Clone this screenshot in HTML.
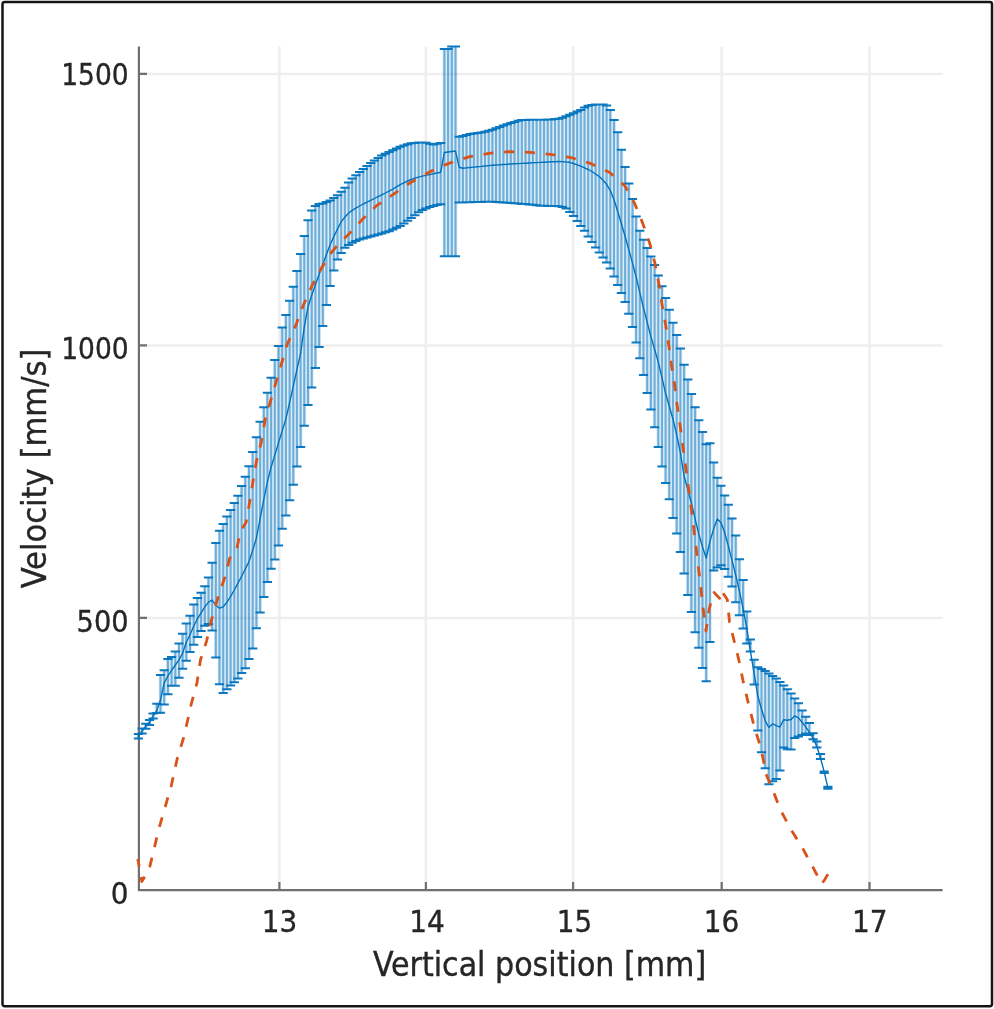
<!DOCTYPE html>
<html lang="en">
<head>
<meta charset="utf-8">
<title>Velocity vs vertical position</title>
<style>
html,body{margin:0;padding:0;background:#ffffff;}
body{width:994px;height:1009px;overflow:hidden;}
svg{display:block;}
</style>
</head>
<body>
<svg width="994" height="1009" viewBox="0 0 994 1009">
<rect x="0" y="0" width="994" height="1009" fill="#ffffff"/>
<rect x="2.5" y="2.1" width="989.5" height="1004.2" rx="2.2" ry="2.2" fill="#ffffff" stroke="#141414" stroke-width="2.5"/>
<path d="M279.4 46.5V890.1M425.9 46.5V890.1M573.1 46.5V890.1M721.7 46.5V890.1M869.5 46.5V890.1M138.9 73.9H942.6M138.9 345.4H942.6M138.9 617.9H942.6" stroke="#eeeeee" stroke-width="2.5" fill="none"/>
<path d="M138.9 46.5V890.1H942.6M279.4 890.1V882M425.9 890.1V882M573.1 890.1V882M721.7 890.1V882M869.5 890.1V882M138.9 73.9H147M138.9 345.4H147M138.9 617.9H147" stroke="#707070" stroke-width="2.2" fill="none"/>
<g>
<g fill="none" stroke="#0072bd">
<path d="M138.4 734V738.6M142.1 728.6V733.4M145.8 723.8V728.8M149.5 720V725M153.1 713.5V718.5M156.8 703.7V713M160.5 675V712.7M164.2 670.3V704.6M167.9 659V694.3M171.6 657V685.8M175.3 651.4V685.8M179 643.5V677.8M182.6 633.7V668.8M186.3 623.5V660.8M190 615.7V651.9M193.7 604.6V644.8M197.4 598V636.9M201.1 592.8V631M204.8 586.2V625.8M208.5 577.5V623.9M212.1 562.8V630.6M215.8 543V657.5M219.5 530.7V684.2M223.2 523.9V693M226.9 516.4V689.3M230.6 510.1V685.4M234.3 503.1V682.2M237.9 495.7V678.6M241.6 486.1V673M245.3 476.7V668.2M249 466.3V658.9M252.7 452.1V648.4M256.4 437.3V628.2M260.1 421.8V612.6M263.8 407.3V597M267.4 392.8V582.1M271.1 377.7V568.8M274.8 360.1V559.5M278.5 346V545.5M282.2 327.6V528.8M285.9 315V515.4M289.6 300.7V500.3M293.3 286.7V484.8M296.9 270.9V466.5M300.6 254.1V447.1M304.3 235.9V425.7M308 220.2V404.9M311.7 210.5V387.4M315.4 206V367.9M319.1 204V346.9M322.8 203.4V325.9M326.4 202V304.9M330.1 200.4V286M333.8 197.9V270.6M337.5 195.3V259.5M341.2 191.7V252.9M344.9 187.8V247.8M348.6 182.6V245.1M352.2 178.6V242.8M355.9 175.2V240.9M359.6 171.9V239.5M363.3 168.9V238.4M367 166V237.4M370.7 163.1V236.4M374.4 160.5V235.5M378.1 157.9V234.5M381.7 155.6V233.4M385.4 153.8V232.3M389.1 151.9V231.2M392.8 150.2V229.6M396.5 148.5V227.8M400.2 146.8V225.9M403.9 145.5V223.4M407.6 144.3V220.8M411.2 143.2V218.1M414.9 142.9V215.2M418.6 142.5V212.2M422.3 142.4V210M426 142.7V208.5M429.7 143.7V207M433.4 144.6V205.9M437 143.8V205.1M440.7 143.1V204.2M444.4 49V256.2M448.1 49V256.2M451.8 46.6V256.2M455.5 46.6V256.2M459.2 136.8V202.6M462.9 135.9V202.5M466.5 134.9V202.3M470.2 133.9V202.2M473.9 133.4V202.1M477.6 132.9V202M481.3 132.4V201.9M485 131.7V201.8M488.7 130.8V201.7M492.4 129.7V201.7M496 128.3V202M499.7 127V202.2M503.4 125.6V202.5M507.1 124.3V202.7M510.8 123V203M514.5 121.9V203.3M518.2 120.8V203.6M521.8 120.1V203.9M525.5 120V204.1M529.2 119.8V204.4M532.9 119.8V204.8M536.6 119.8V205.3M540.3 119.8V205.7M544 119.7V205.8M547.7 119.6V205.9M551.3 119.4V206M555 119V206.1M558.7 118.7V206.3M562.4 117.7V207.1M566.1 116.2V208.6M569.8 114.7V212.1M573.5 113.2V216.1M577.2 111.6V221M580.8 109.9V225.9M584.5 107.4V230.8M588.2 105.8V236.4M591.9 105V242M595.6 104.5V247.5M599.3 104.5V252.6M603 104.5V257.5M606.6 105.4V262.4M610.3 110V268.4M614 119.9V276.4M617.7 132.2V285M621.4 149.8V293M625.1 166.9V302.1M628.8 183.6V313.8M632.5 199.1V326.9M636.1 216.4V342.4M639.8 230.8V358.3M643.5 239.8V375.1M647.2 248.1V393M650.9 256.5V409.4M654.6 264.9V427.2M658.3 275.6V447M662 286.2V466.5M665.6 298V482.9M669.3 309.7V499.3M673 322.8V517.9M676.7 335V533.4M680.4 348.4V551.9M684.1 364.7V573.5M687.8 379.4V595M691.4 393.9V611.9M695.1 407.3V632.2M698.8 420.3V647.7M702.5 432.1V668M706.2 444.3V681.2M709.9 443.2V641.9M713.6 462.6V570.4M717.3 477.8V567.6M720.9 485.8V565.3M724.6 495.4V568.9M728.3 504.8V576.7M732 518.5V586.5M735.7 535.4V602.2M739.4 559.2V615.2M743.1 580V628.6M746.8 611.6V643.5M750.4 639.4V651.6M754.1 659.8V684.4M757.8 667.3V730.4M761.5 669.1V752.2M765.2 671.1V768.2M768.9 673.6V784.3M772.6 676V781.3M776.3 678.5V778.9M779.9 681.9V770.5M783.6 685.6V747.4M787.3 689.3V749.2M791 693.5V749.6M794.7 698.6V737.9M798.4 703.2V736.4M802.1 710.6V735M805.7 716.8V733.5M809.4 722.9V734.9M813.1 733.3V739.3M816.8 741.4V747.4M820.5 753.9V759M824.2 771.4V772.9M827.9 786.8V788.7" stroke-width="3.7369999999999997" stroke-opacity="0.14"/>
<path d="M138.4 734V738.6M142.1 728.6V733.4M145.8 723.8V728.8M149.5 720V725M153.1 713.5V718.5M156.8 703.7V713M160.5 675V712.7M164.2 670.3V704.6M167.9 659V694.3M171.6 657V685.8M175.3 651.4V685.8M179 643.5V677.8M182.6 633.7V668.8M186.3 623.5V660.8M190 615.7V651.9M193.7 604.6V644.8M197.4 598V636.9M201.1 592.8V631M204.8 586.2V625.8M208.5 577.5V623.9M212.1 562.8V630.6M215.8 543V657.5M219.5 530.7V684.2M223.2 523.9V693M226.9 516.4V689.3M230.6 510.1V685.4M234.3 503.1V682.2M237.9 495.7V678.6M241.6 486.1V673M245.3 476.7V668.2M249 466.3V658.9M252.7 452.1V648.4M256.4 437.3V628.2M260.1 421.8V612.6M263.8 407.3V597M267.4 392.8V582.1M271.1 377.7V568.8M274.8 360.1V559.5M278.5 346V545.5M282.2 327.6V528.8M285.9 315V515.4M289.6 300.7V500.3M293.3 286.7V484.8M296.9 270.9V466.5M300.6 254.1V447.1M304.3 235.9V425.7M308 220.2V404.9M311.7 210.5V387.4M315.4 206V367.9M319.1 204V346.9M322.8 203.4V325.9M326.4 202V304.9M330.1 200.4V286M333.8 197.9V270.6M337.5 195.3V259.5M341.2 191.7V252.9M344.9 187.8V247.8M348.6 182.6V245.1M352.2 178.6V242.8M355.9 175.2V240.9M359.6 171.9V239.5M363.3 168.9V238.4M367 166V237.4M370.7 163.1V236.4M374.4 160.5V235.5M378.1 157.9V234.5M381.7 155.6V233.4M385.4 153.8V232.3M389.1 151.9V231.2M392.8 150.2V229.6M396.5 148.5V227.8M400.2 146.8V225.9M403.9 145.5V223.4M407.6 144.3V220.8M411.2 143.2V218.1M414.9 142.9V215.2M418.6 142.5V212.2M422.3 142.4V210M426 142.7V208.5M429.7 143.7V207M433.4 144.6V205.9M437 143.8V205.1M440.7 143.1V204.2M444.4 49V256.2M448.1 49V256.2M451.8 46.6V256.2M455.5 46.6V256.2M459.2 136.8V202.6M462.9 135.9V202.5M466.5 134.9V202.3M470.2 133.9V202.2M473.9 133.4V202.1M477.6 132.9V202M481.3 132.4V201.9M485 131.7V201.8M488.7 130.8V201.7M492.4 129.7V201.7M496 128.3V202M499.7 127V202.2M503.4 125.6V202.5M507.1 124.3V202.7M510.8 123V203M514.5 121.9V203.3M518.2 120.8V203.6M521.8 120.1V203.9M525.5 120V204.1M529.2 119.8V204.4M532.9 119.8V204.8M536.6 119.8V205.3M540.3 119.8V205.7M544 119.7V205.8M547.7 119.6V205.9M551.3 119.4V206M555 119V206.1M558.7 118.7V206.3M562.4 117.7V207.1M566.1 116.2V208.6M569.8 114.7V212.1M573.5 113.2V216.1M577.2 111.6V221M580.8 109.9V225.9M584.5 107.4V230.8M588.2 105.8V236.4M591.9 105V242M595.6 104.5V247.5M599.3 104.5V252.6M603 104.5V257.5M606.6 105.4V262.4M610.3 110V268.4M614 119.9V276.4M617.7 132.2V285M621.4 149.8V293M625.1 166.9V302.1M628.8 183.6V313.8M632.5 199.1V326.9M636.1 216.4V342.4M639.8 230.8V358.3M643.5 239.8V375.1M647.2 248.1V393M650.9 256.5V409.4M654.6 264.9V427.2M658.3 275.6V447M662 286.2V466.5M665.6 298V482.9M669.3 309.7V499.3M673 322.8V517.9M676.7 335V533.4M680.4 348.4V551.9M684.1 364.7V573.5M687.8 379.4V595M691.4 393.9V611.9M695.1 407.3V632.2M698.8 420.3V647.7M702.5 432.1V668M706.2 444.3V681.2M709.9 443.2V641.9M713.6 462.6V570.4M717.3 477.8V567.6M720.9 485.8V565.3M724.6 495.4V568.9M728.3 504.8V576.7M732 518.5V586.5M735.7 535.4V602.2M739.4 559.2V615.2M743.1 580V628.6M746.8 611.6V643.5M750.4 639.4V651.6M754.1 659.8V684.4M757.8 667.3V730.4M761.5 669.1V752.2M765.2 671.1V768.2M768.9 673.6V784.3M772.6 676V781.3M776.3 678.5V778.9M779.9 681.9V770.5M783.6 685.6V747.4M787.3 689.3V749.2M791 693.5V749.6M794.7 698.6V737.9M798.4 703.2V736.4M802.1 710.6V735M805.7 716.8V733.5M809.4 722.9V734.9M813.1 733.3V739.3M816.8 741.4V747.4M820.5 753.9V759M824.2 771.4V772.9M827.9 786.8V788.7" stroke-width="2.1" stroke-opacity="0.5"/>
<path d="M133.8 734h9.2M133.8 738.6h9.2M137.5 728.6h9.2M137.5 733.4h9.2M141.2 723.8h9.2M141.2 728.8h9.2M144.9 720h9.2M144.9 725h9.2M148.5 713.5h9.2M148.5 718.5h9.2M152.2 703.7h9.2M152.2 713h9.2M155.9 675h9.2M155.9 712.7h9.2M159.6 670.3h9.2M159.6 704.6h9.2M163.3 659h9.2M163.3 694.3h9.2M167 657h9.2M167 685.8h9.2M170.7 651.4h9.2M170.7 685.8h9.2M174.4 643.5h9.2M174.4 677.8h9.2M178 633.7h9.2M178 668.8h9.2M181.7 623.5h9.2M181.7 660.8h9.2M185.4 615.7h9.2M185.4 651.9h9.2M189.1 604.6h9.2M189.1 644.8h9.2M192.8 598h9.2M192.8 636.9h9.2M196.5 592.8h9.2M196.5 631h9.2M200.2 586.2h9.2M200.2 625.8h9.2M203.9 577.5h9.2M203.9 623.9h9.2M207.5 562.8h9.2M207.5 630.6h9.2M211.2 543h9.2M211.2 657.5h9.2M214.9 530.7h9.2M214.9 684.2h9.2M218.6 523.9h9.2M218.6 693h9.2M222.3 516.4h9.2M222.3 689.3h9.2M226 510.1h9.2M226 685.4h9.2M229.7 503.1h9.2M229.7 682.2h9.2M233.3 495.7h9.2M233.3 678.6h9.2M237 486.1h9.2M237 673h9.2M240.7 476.7h9.2M240.7 668.2h9.2M244.4 466.3h9.2M244.4 658.9h9.2M248.1 452.1h9.2M248.1 648.4h9.2M251.8 437.3h9.2M251.8 628.2h9.2M255.5 421.8h9.2M255.5 612.6h9.2M259.2 407.3h9.2M259.2 597h9.2M262.8 392.8h9.2M262.8 582.1h9.2M266.5 377.7h9.2M266.5 568.8h9.2M270.2 360.1h9.2M270.2 559.5h9.2M273.9 346h9.2M273.9 545.5h9.2M277.6 327.6h9.2M277.6 528.8h9.2M281.3 315h9.2M281.3 515.4h9.2M285 300.7h9.2M285 500.3h9.2M288.7 286.7h9.2M288.7 484.8h9.2M292.3 270.9h9.2M292.3 466.5h9.2M296 254.1h9.2M296 447.1h9.2M299.7 235.9h9.2M299.7 425.7h9.2M303.4 220.2h9.2M303.4 404.9h9.2M307.1 210.5h9.2M307.1 387.4h9.2M310.8 206h9.2M310.8 367.9h9.2M314.5 204h9.2M314.5 346.9h9.2M318.1 203.4h9.2M318.1 325.9h9.2M321.8 202h9.2M321.8 304.9h9.2M325.5 200.4h9.2M325.5 286h9.2M329.2 197.9h9.2M329.2 270.6h9.2M332.9 195.3h9.2M332.9 259.5h9.2M336.6 191.7h9.2M336.6 252.9h9.2M340.3 187.8h9.2M340.3 247.8h9.2M344 182.6h9.2M344 245.1h9.2M347.6 178.6h9.2M347.6 242.8h9.2M351.3 175.2h9.2M351.3 240.9h9.2M355 171.9h9.2M355 239.5h9.2M358.7 168.9h9.2M358.7 238.4h9.2M362.4 166h9.2M362.4 237.4h9.2M366.1 163.1h9.2M366.1 236.4h9.2M369.8 160.5h9.2M369.8 235.5h9.2M373.5 157.9h9.2M373.5 234.5h9.2M377.1 155.6h9.2M377.1 233.4h9.2M380.8 153.8h9.2M380.8 232.3h9.2M384.5 151.9h9.2M384.5 231.2h9.2M388.2 150.2h9.2M388.2 229.6h9.2M391.9 148.5h9.2M391.9 227.8h9.2M395.6 146.8h9.2M395.6 225.9h9.2M399.3 145.5h9.2M399.3 223.4h9.2M403 144.3h9.2M403 220.8h9.2M406.6 143.2h9.2M406.6 218.1h9.2M410.3 142.9h9.2M410.3 215.2h9.2M414 142.5h9.2M414 212.2h9.2M417.7 142.4h9.2M417.7 210h9.2M421.4 142.7h9.2M421.4 208.5h9.2M425.1 143.7h9.2M425.1 207h9.2M428.8 144.6h9.2M428.8 205.9h9.2M432.4 143.8h9.2M432.4 205.1h9.2M436.1 143.1h9.2M436.1 204.2h9.2M439.8 49h9.2M439.8 256.2h9.2M443.5 49h9.2M443.5 256.2h9.2M447.2 46.6h9.2M447.2 256.2h9.2M450.9 46.6h9.2M450.9 256.2h9.2M454.6 136.8h9.2M454.6 202.6h9.2M458.3 135.9h9.2M458.3 202.5h9.2M461.9 134.9h9.2M461.9 202.3h9.2M465.6 133.9h9.2M465.6 202.2h9.2M469.3 133.4h9.2M469.3 202.1h9.2M473 132.9h9.2M473 202h9.2M476.7 132.4h9.2M476.7 201.9h9.2M480.4 131.7h9.2M480.4 201.8h9.2M484.1 130.8h9.2M484.1 201.7h9.2M487.8 129.7h9.2M487.8 201.7h9.2M491.4 128.3h9.2M491.4 202h9.2M495.1 127h9.2M495.1 202.2h9.2M498.8 125.6h9.2M498.8 202.5h9.2M502.5 124.3h9.2M502.5 202.7h9.2M506.2 123h9.2M506.2 203h9.2M509.9 121.9h9.2M509.9 203.3h9.2M513.6 120.8h9.2M513.6 203.6h9.2M517.2 120.1h9.2M517.2 203.9h9.2M520.9 120h9.2M520.9 204.1h9.2M524.6 119.8h9.2M524.6 204.4h9.2M528.3 119.8h9.2M528.3 204.8h9.2M532 119.8h9.2M532 205.3h9.2M535.7 119.8h9.2M535.7 205.7h9.2M539.4 119.7h9.2M539.4 205.8h9.2M543.1 119.6h9.2M543.1 205.9h9.2M546.7 119.4h9.2M546.7 206h9.2M550.4 119h9.2M550.4 206.1h9.2M554.1 118.7h9.2M554.1 206.3h9.2M557.8 117.7h9.2M557.8 207.1h9.2M561.5 116.2h9.2M561.5 208.6h9.2M565.2 114.7h9.2M565.2 212.1h9.2M568.9 113.2h9.2M568.9 216.1h9.2M572.6 111.6h9.2M572.6 221h9.2M576.2 109.9h9.2M576.2 225.9h9.2M579.9 107.4h9.2M579.9 230.8h9.2M583.6 105.8h9.2M583.6 236.4h9.2M587.3 105h9.2M587.3 242h9.2M591 104.5h9.2M591 247.5h9.2M594.7 104.5h9.2M594.7 252.6h9.2M598.4 104.5h9.2M598.4 257.5h9.2M602 105.4h9.2M602 262.4h9.2M605.7 110h9.2M605.7 268.4h9.2M609.4 119.9h9.2M609.4 276.4h9.2M613.1 132.2h9.2M613.1 285h9.2M616.8 149.8h9.2M616.8 293h9.2M620.5 166.9h9.2M620.5 302.1h9.2M624.2 183.6h9.2M624.2 313.8h9.2M627.9 199.1h9.2M627.9 326.9h9.2M631.5 216.4h9.2M631.5 342.4h9.2M635.2 230.8h9.2M635.2 358.3h9.2M638.9 239.8h9.2M638.9 375.1h9.2M642.6 248.1h9.2M642.6 393h9.2M646.3 256.5h9.2M646.3 409.4h9.2M650 264.9h9.2M650 427.2h9.2M653.7 275.6h9.2M653.7 447h9.2M657.4 286.2h9.2M657.4 466.5h9.2M661 298h9.2M661 482.9h9.2M664.7 309.7h9.2M664.7 499.3h9.2M668.4 322.8h9.2M668.4 517.9h9.2M672.1 335h9.2M672.1 533.4h9.2M675.8 348.4h9.2M675.8 551.9h9.2M679.5 364.7h9.2M679.5 573.5h9.2M683.2 379.4h9.2M683.2 595h9.2M686.8 393.9h9.2M686.8 611.9h9.2M690.5 407.3h9.2M690.5 632.2h9.2M694.2 420.3h9.2M694.2 647.7h9.2M697.9 432.1h9.2M697.9 668h9.2M701.6 444.3h9.2M701.6 681.2h9.2M705.3 443.2h9.2M705.3 641.9h9.2M709 462.6h9.2M709 570.4h9.2M712.7 477.8h9.2M712.7 567.6h9.2M716.3 485.8h9.2M716.3 565.3h9.2M720 495.4h9.2M720 568.9h9.2M723.7 504.8h9.2M723.7 576.7h9.2M727.4 518.5h9.2M727.4 586.5h9.2M731.1 535.4h9.2M731.1 602.2h9.2M734.8 559.2h9.2M734.8 615.2h9.2M738.5 580h9.2M738.5 628.6h9.2M742.2 611.6h9.2M742.2 643.5h9.2M745.8 639.4h9.2M745.8 651.6h9.2M749.5 659.8h9.2M749.5 684.4h9.2M753.2 667.3h9.2M753.2 730.4h9.2M756.9 669.1h9.2M756.9 752.2h9.2M760.6 671.1h9.2M760.6 768.2h9.2M764.3 673.6h9.2M764.3 784.3h9.2M768 676h9.2M768 781.3h9.2M771.7 678.5h9.2M771.7 778.9h9.2M775.3 681.9h9.2M775.3 770.5h9.2M779 685.6h9.2M779 747.4h9.2M782.7 689.3h9.2M782.7 749.2h9.2M786.4 693.5h9.2M786.4 749.6h9.2M790.1 698.6h9.2M790.1 737.9h9.2M793.8 703.2h9.2M793.8 736.4h9.2M797.5 710.6h9.2M797.5 735h9.2M801.1 716.8h9.2M801.1 733.5h9.2M804.8 722.9h9.2M804.8 734.9h9.2M808.5 733.3h9.2M808.5 739.3h9.2M812.2 741.4h9.2M812.2 747.4h9.2M815.9 753.9h9.2M815.9 759h9.2M819.6 771.4h9.2M819.6 772.9h9.2M823.3 786.8h9.2M823.3 788.7h9.2" stroke-width="2.0" stroke-opacity="0.95"/>
<polyline points="138.4,736.2 142.1,731 145.8,726.3 149.5,722.5 153.1,716 156.8,710.3 160.5,700 164.2,683 167.9,675.9 171.6,670.3 175.3,665 179,659.9 182.6,653.3 186.3,642.3 190,634.8 193.7,626.3 197.4,618.8 201.1,612.8 204.8,606.9 208.5,602.1 212.1,600.2 215.8,605.2 219.5,608.2 223.2,606.8 226.9,602.3 230.6,596.3 234.3,590 237.9,583.4 241.6,576.3 245.3,569 249,561.6 252.7,550.2 256.4,538.1 260.1,518.9 263.8,499.7 267.4,482.2 271.1,467.2 274.8,455.1 278.5,442.9 282.2,430.9 285.9,418.9 289.6,402.7 293.3,386.1 296.9,369.7 300.6,353.4 304.3,326.8 308,307 311.7,295.2 315.4,284.7 319.1,274.6 322.8,264.6 326.4,254.4 330.1,244.7 333.8,236.6 337.5,229.1 341.2,221.8 344.9,217.1 348.6,213.3 352.2,210.4 355.9,208.2 359.6,206 363.3,204 367,202.2 370.7,200.4 374.4,198.5 378.1,196.7 381.7,194.9 385.4,193 389.1,191.1 392.8,189.1 396.5,186.8 400.2,184.6 403.9,182.8 407.6,181 411.2,179.3 414.9,178.2 418.6,177.1 422.3,176.1 426,175.4 429.7,174.6 433.4,173.8 437,173 440.7,172.2 444.4,152.5 448.1,152 451.8,151.5 455.5,151 459.2,167.3 462.9,168.3 466.5,167.9 470.2,167.5 473.9,167.1 477.6,166.7 481.3,166.4 485,166 488.7,165.6 492.4,165.3 496,165 499.7,164.8 503.4,164.5 507.1,164.3 510.8,164 514.5,163.8 518.2,163.6 521.8,163.4 525.5,163.2 529.2,163 532.9,162.8 536.6,162.6 540.3,162.4 544,162.2 547.7,162 551.3,161.8 555,161.7 558.7,161.5 562.4,161.6 566.1,162 569.8,162.3 573.5,163.5 577.2,164.9 580.8,166.2 584.5,167.9 588.2,169.5 591.9,171.5 595.6,174 599.3,176.6 603,180.2 606.6,184.3 610.3,190.6 614,199.7 617.7,211.5 621.4,223.8 625.1,236.3 628.8,249.6 632.5,263.1 636.1,276.7 639.8,292.7 643.5,307.9 647.2,322.4 650.9,336.6 654.6,349.3 658.3,362.1 662,377.8 665.6,393.3 669.3,406.2 673,419.2 676.7,434.9 680.4,452.9 684.1,476.2 687.8,489.5 691.4,503.2 695.1,518.8 698.8,534.2 702.5,546.9 706.2,558 709.9,541.6 713.6,529.1 717.3,518.9 720.9,522.5 724.6,532.2 728.3,545.9 732,560.3 735.7,575 739.4,591.2 743.1,608.4 746.8,628.7 750.4,651.1 754.1,673.4 757.8,695.8 761.5,709.3 765.2,720.8 768.9,727.5 772.6,723.8 776.3,725.6 779.9,727.1 783.6,719.8 787.3,720.2 791,719.5 794.7,715.9 798.4,717.9 802.1,722.3 805.7,726.9 809.4,732.1 813.1,738.1 816.8,746.3 820.5,758 824.2,771.9 827.9,787.7" stroke-width="1.4" stroke-linejoin="round"/>
</g>
<polyline points="137.8,859 140.2,872 141.8,881.5 145.3,876 149.8,866.7 159,828.4 171.3,785.6 177.3,758.3 183.5,738 187.1,722.7 191.5,703 196.9,683.4 200.4,660.3 206.7,640.6 211.1,621 217.8,598.2 225.7,574.4 229.6,558.6 237,548 240.5,531 246,522.5 249,506 252.4,485.2 256.4,461.4 261.4,441.6 265.3,419 270.3,402 275.6,383.7 287,345 296.1,324.5 302.9,306.2 312,285.7 321.2,268.6 330.3,253.8 339.4,243 348.5,234.4 362.2,219.6 376.3,205.8 394.4,193.6 410.5,182.5 430.6,171.4 448.7,163.4 468.8,156.9 489,153.3 509.1,151.7 530.2,152.4 550.3,154.4 570.4,157.4 590.5,163.4 609.7,172.5 624.7,185.6 634.8,203.7 642.9,223.8 649.9,243.9 654.9,263 659,284.2 661.8,303.3 665.9,326.2 668.7,344.9 671.6,365.7 674.9,386.5 677.4,407.3 680.5,428.1 683.2,448.9 686.1,469.7 690.7,504.4 695.1,539.3 699.5,576.4 702.7,604.7 706,631 709,610 712,598 714,592.5 719.7,598.4 721,601.2 722.9,593 727.3,599.5 729.5,622 733.3,637.5 738.7,659.3 743.1,681.1 748,701.9 754.5,727.7 761,748.3 766.1,774.1 772.6,789.6 780.3,809.5 790.6,829 802.2,847.5 812.5,866.5 821.6,883.7 824.5,880 828,874" fill="none" stroke="#d95319" stroke-width="2.8" stroke-dasharray="10 10.75" stroke-dashoffset="2.4" stroke-linejoin="round"/>
</g>
<g font-family="'DejaVu Sans Condensed', 'DejaVu Sans', 'Liberation Sans', sans-serif" fill="#262626" stroke="#262626" stroke-width="0.35">
<text x="128.6" y="85.3" font-size="31" text-anchor="end" textLength="67.4" lengthAdjust="spacingAndGlyphs">1500</text>
<text x="128.6" y="359.3" font-size="31" text-anchor="end" textLength="67.4" lengthAdjust="spacingAndGlyphs">1000</text>
<text x="128.6" y="631.6" font-size="31" text-anchor="end" textLength="52.0" lengthAdjust="spacingAndGlyphs">500</text>
<text x="128.6" y="904.3" font-size="31" text-anchor="end">0</text>
<text x="279.4" y="932.3" font-size="31" text-anchor="middle">13</text>
<text x="427.1" y="932.3" font-size="31" text-anchor="middle">14</text>
<text x="574.6" y="932.3" font-size="31" text-anchor="middle">15</text>
<text x="721.5" y="932.3" font-size="31" text-anchor="middle">16</text>
<text x="869.7" y="932.3" font-size="31" text-anchor="middle">17</text>
<text x="539.6" y="976.2" font-size="33" text-anchor="middle" textLength="333.3" lengthAdjust="spacingAndGlyphs">Vertical position [mm]</text>
<text transform="translate(46.4 468.4) rotate(-90)" font-size="33" text-anchor="middle" textLength="239.8" lengthAdjust="spacingAndGlyphs">Velocity [mm/s]</text>
</g>
</svg>
</body>
</html>
